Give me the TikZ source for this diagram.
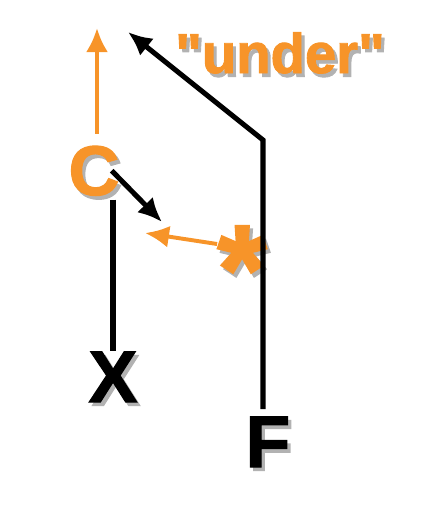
\documentclass[tikz,border=0pt]{standalone}
\usepackage{fontspec}
\setmainfont{Liberation Sans}
\newfontfamily\heavyfont{Liberation Sans Bold}[FakeBold=1.6]
\usetikzlibrary{arrows.meta, positioning}
\definecolor{keyorange}{RGB}{247,148,41}
% text with a soft grey shadow behind it
\newcommand{\dropsh}[1]{\rlap{\kern2.2pt\raisebox{-2.6pt}{\textcolor{black!30}{#1}}}#1}
\tikzset{
>={Latex[length=6mm,width=5.5mm]}, % filled arrow heads
letter/.style={inner sep=0pt, anchor=base, font=\fontsize{52}{60}\selectfont\heavyfont}, % big black letters
blackline/.style={line width=3.6pt, black},
orangeline/.style={line width=2.8pt, keyorange},
}

\begin{document}
\begin{tikzpicture}[x=0.025cm, y=-0.025cm]
  \useasboundingbox (0,0) rectangle (424,506);
  % letters
  \node[letter, text=keyorange, font=\fontsize{50}{60}\selectfont\heavyfont] (C) at (94,195) {\dropsh{C}};
  \node[letter] (X) at (113,402) {\dropsh{X}};
  \node[letter] (F) at (268,467) {\dropsh{F}};
  \node[inner sep=0pt, text=keyorange, font=\fontsize{90}{100}\selectfont\heavyfont] (star) at (242,240)
    {\dropsh{\raisebox{-0.44em}[0.3em][0pt]{*}}};
  \node[letter, text=keyorange, font=\fontsize{40}{48}\selectfont\heavyfont] (under) at (280,73)
    {\dropsh{\char34 under\char34}};
  % free ends
  \coordinate (upend) at (97,28);
  \coordinate (cdown) at (162,222);
  \coordinate (starend) at (145,233);
  \coordinate (bend) at (263,140);
  \coordinate (ftip) at (128,32);
  % connectors
  \draw[orangeline, ->, shorten <=0.3cm] (C.north -| upend) -- (upend);
  \draw[blackline] (X.north |- C.south) -- (X.north);
  \draw[blackline, ->] ([xshift=-0.2cm, yshift=0.05cm]C.east) -- (cdown);
  \draw[orangeline, ->] ([yshift=-0.1cm]star.west) -- (starend);
  \draw[blackline, ->, shorten <=0.18cm] (F.north -| bend) -- (bend) -- (ftip);
\end{tikzpicture}
\end{document}
